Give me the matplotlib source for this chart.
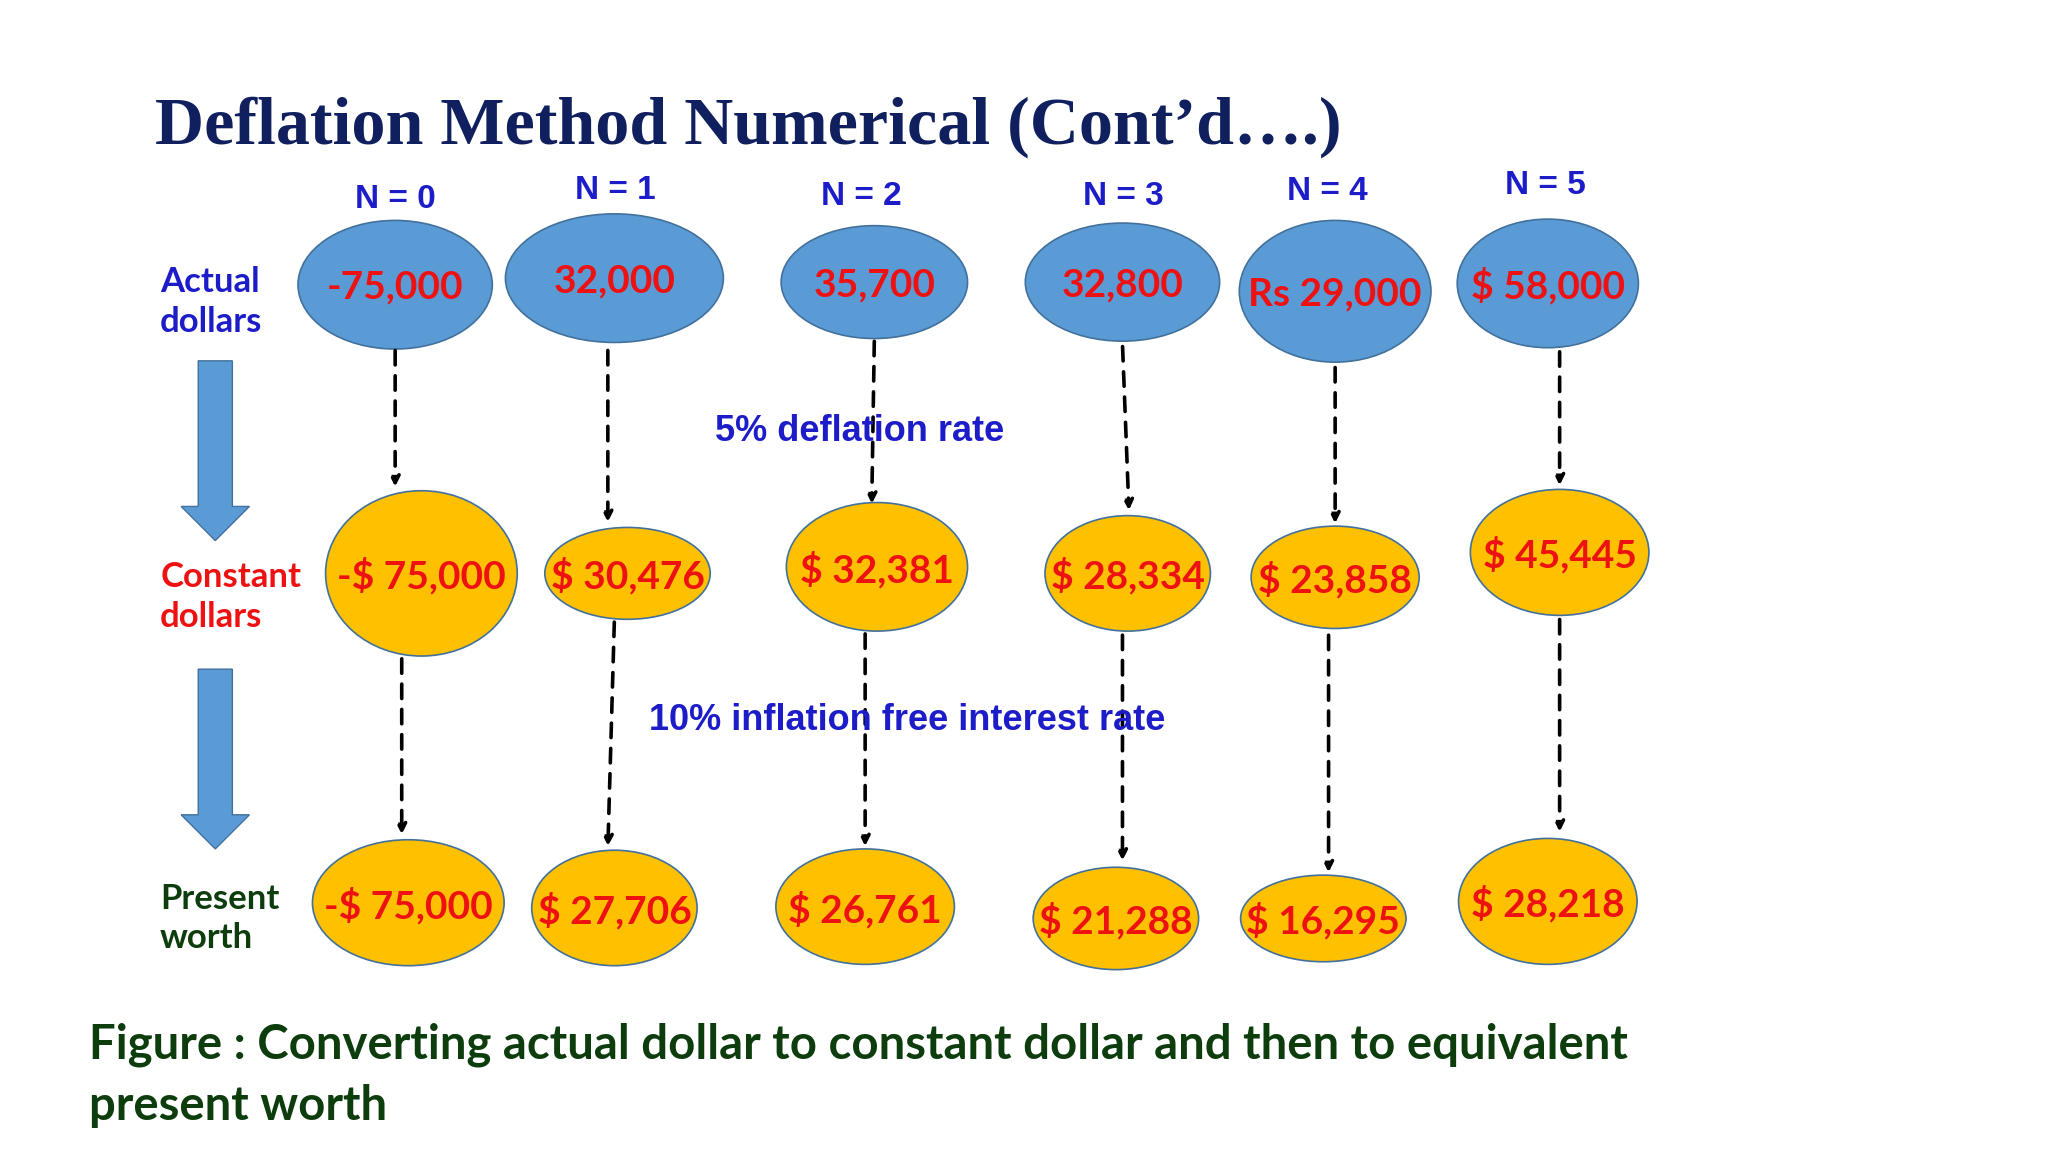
import matplotlib
matplotlib.use("Agg")
import matplotlib.pyplot as plt
from matplotlib.patches import Ellipse, FancyArrow

periods = ["N = 0", "N = 1", "N = 2", "N = 3", "N = 4", "N = 5"]
actual = ["-75,000", "32,000", "35,700", "32,800", "Rs 29,000", "$ 58,000"]
constant = ["-$ 75,000", "$ 30,476", "$ 32,381", "$ 28,334", "$ 23,858", "$ 45,445"]
present = ["-$ 75,000", "$ 27,706", "$ 26,761", "$ 21,288", "$ 16,295", "$ 28,218"]

# layout (canvas units, 1560 x 878, y downward)
n_pos = [(301, 152), (469, 145), (656, 150), (856, 150), (1011, 146), (1177, 141)]
e1 = [(301, 217, 148, 98), (468, 212, 166, 98), (666, 215, 142, 86),
      (855, 215, 148, 90), (1017, 222, 146, 108), (1179, 216, 138, 98)]
e2 = [(321, 437, 146, 126), (478, 437, 126, 70), (668, 432, 138, 98),
      (859, 437, 126, 88), (1017, 440, 128, 78), (1188, 421, 136, 96)]
e3 = [(311, 688, 146, 96), (468, 692, 126, 88), (659, 691, 136, 88),
      (850, 700, 126, 78), (1008, 700, 126, 66), (1179, 687, 136, 96)]
a1 = [(301, 265, 301, 373), (463, 265, 463, 400), (666, 258, 664, 386),
      (855, 262, 860, 391), (1017, 278, 1017, 401), (1188, 266, 1188, 372)]
a2 = [(306, 500, 306, 638), (468, 472, 463, 647), (659, 481, 659, 647),
      (855, 482, 855, 658), (1012, 482, 1012, 667), (1188, 470, 1188, 636)]

fig = plt.figure(figsize=(20.48, 11.52), dpi=100)
ax = fig.add_axes([0, 0, 1, 1])
ax.set_xlim(0, 1560)
ax.set_ylim(878, 0)
ax.axis("off")

BLUE_T = "#1c1cc8"
RED = "#ee1111"
GREEN = "#0d3d0d"
tf = ["Lato", "DejaVu Sans"]

ax.text(118, 97, "Deflation Method Numerical (Cont’d….)", family="Liberation Serif",
        weight="bold", fontsize=49, color="#10205e", va="center")

def ell(specs, fc, texts):
    for (x, y, w, h), t in zip(specs, texts):
        ax.add_patch(Ellipse((x, y), w, h, facecolor=fc, edgecolor="#41719c", lw=1.2))
        ax.text(x, y + 2, t, ha="center", va="center", color=RED, weight="bold",
                fontsize=28, family=tf)

ell(e1, "#5b9bd5", actual)
ell(e2, "#ffc000", constant)
ell(e3, "#ffc000", present)

for (x, y), t in zip(n_pos, periods):
    ax.text(x, y, t, ha="center", va="center", color=BLUE_T, weight="bold",
            fontsize=24, family="Liberation Sans")

for arr in (a1, a2):
    for x0, y0, x1, y1 in arr:
        ax.annotate("", xy=(x1, y1), xytext=(x0, y0),
                    arrowprops=dict(arrowstyle="-|>", ls=(0, (4, 3)), lw=2.6,
                                    color="black", mutation_scale=14))

ax.text(545, 329, "5% deflation rate", color=BLUE_T, weight="bold", fontsize=26,
        family="Liberation Sans", va="center")
ax.text(494, 549, "10% inflation free interest rate", color=BLUE_T, weight="bold",
        fontsize=26, family="Liberation Sans", va="center")

ax.text(122, 230, "Actual\ndollars", color=BLUE_T, weight="bold", fontsize=25,
        family=tf, va="center", linespacing=1.3)
ax.text(122, 455, "Constant\ndollars", color=RED, weight="bold", fontsize=25,
        family=tf, va="center", linespacing=1.3)
ax.text(122, 700, "Present\nworth", color=GREEN, weight="bold", fontsize=25,
        family=tf, va="center", linespacing=1.3)

for y0, y1 in [(275, 412), (510, 647)]:
    ax.add_patch(FancyArrow(164, y0, 0, y1 - y0, width=26, head_width=52,
                            head_length=26, length_includes_head=True,
                            facecolor="#5b9bd5", edgecolor="#41719c", lw=1))

ax.text(68, 796, "Figure : Converting actual dollar to constant dollar and then to equivalent",
        color=GREEN, weight="bold", fontsize=34, family=tf, va="center")
ax.text(68, 843, "present worth", color=GREEN, weight="bold", fontsize=34, family=tf,
        va="center")

fig.savefig("out.png", dpi=100, facecolor="white")
